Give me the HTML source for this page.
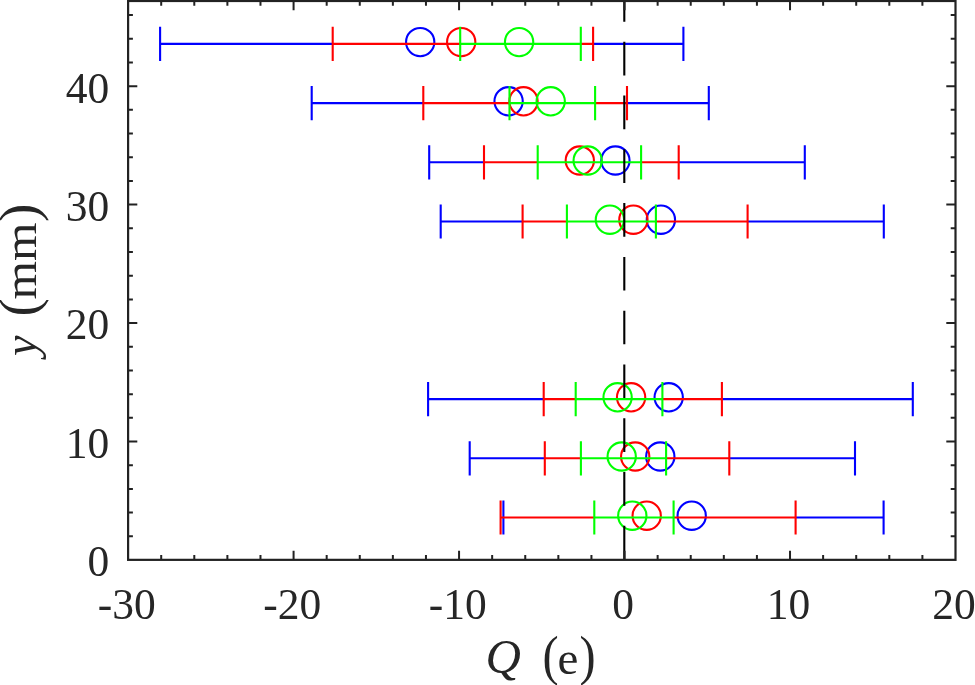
<!DOCTYPE html>
<html><head><meta charset="utf-8"><title>Q vs y</title>
<style>html,body{margin:0;padding:0;background:#fff;overflow:hidden}svg{display:block}text{font-family:"Liberation Serif","DejaVu Serif",serif;fill:#262626}</style>
</head><body>
<svg width="975" height="685" viewBox="0 0 975 685">
<rect x="0" y="0" width="975" height="685" fill="#ffffff"/>
<g stroke="#0000ff" stroke-width="2.10" fill="none">
<path d="M160.1 43.9H332.7M593.1 43.9H683.4M160.1 26.8V61.0M683.4 26.8V61.0M311.7 103.1H423.3M627.0 103.1H708.8M311.7 86.0V120.2M708.8 86.0V120.2M429.2 162.3H484.0M678.7 162.3H804.8M429.2 145.2V179.4M804.8 145.2V179.4M440.7 221.5H522.6M747.6 221.5H883.8M440.7 204.4V238.6M883.8 204.4V238.6M428.1 399.1H543.7M721.9 399.1H912.8M428.1 382.0V416.2M912.8 382.0V416.2M469.7 458.3H544.8M729.3 458.3H855.0M469.7 441.2V475.4M855.0 441.2V475.4M795.6 517.5H883.6M503.4 500.4V534.6M883.6 500.4V534.6"/>
<circle cx="420.2" cy="42.1" r="14.15"/>
<circle cx="508.6" cy="101.3" r="14.15"/>
<circle cx="615.4" cy="160.5" r="14.15"/>
<circle cx="660.9" cy="219.7" r="14.15"/>
<circle cx="668.7" cy="397.3" r="14.15"/>
<circle cx="660.3" cy="456.5" r="14.15"/>
<circle cx="691.7" cy="515.7" r="14.15"/>
</g>
<g stroke="#ff0000" stroke-width="2.10" fill="none">
<path d="M332.7 43.9H460.2M580.8 43.9H593.1M332.7 26.8V61.0M593.1 26.8V61.0M423.3 103.1H509.5M595.1 103.1H627.0M423.3 86.0V120.2M627.0 86.0V120.2M484.0 162.3H537.7M641.1 162.3H678.7M484.0 145.2V179.4M678.7 145.2V179.4M522.6 221.5H566.9M655.9 221.5H747.6M522.6 204.4V238.6M747.6 204.4V238.6M543.7 399.1H575.7M662.4 399.1H721.9M543.7 382.0V416.2M721.9 382.0V416.2M544.8 458.3H580.9M666.1 458.3H729.3M544.8 441.2V475.4M729.3 441.2V475.4M500.6 517.5H594.3M673.6 517.5H795.6M500.6 500.4V534.6M795.6 500.4V534.6"/>
<circle cx="461.2" cy="42.1" r="14.15"/>
<circle cx="523.5" cy="101.3" r="14.15"/>
<circle cx="579.8" cy="160.5" r="14.15"/>
<circle cx="633.4" cy="219.7" r="14.15"/>
<circle cx="631.1" cy="397.3" r="14.15"/>
<circle cx="635.2" cy="456.5" r="14.15"/>
<circle cx="646.7" cy="515.7" r="14.15"/>
</g>
<g stroke="#00ff00" stroke-width="2.10" fill="none">
<path d="M460.2 43.9H580.8M460.2 26.8V61.0M580.8 26.8V61.0M509.5 103.1H595.1M509.5 86.0V120.2M595.1 86.0V120.2M537.7 162.3H641.1M537.7 145.2V179.4M641.1 145.2V179.4M566.9 221.5H655.9M566.9 204.4V238.6M655.9 204.4V238.6M575.7 399.1H662.4M575.7 382.0V416.2M662.4 382.0V416.2M580.9 458.3H666.1M580.9 441.2V475.4M666.1 441.2V475.4M594.3 517.5H673.6M594.3 500.4V534.6M673.6 500.4V534.6"/>
<circle cx="519.1" cy="42.1" r="14.15"/>
<circle cx="550.7" cy="101.3" r="14.15"/>
<circle cx="587.7" cy="160.5" r="14.15"/>
<circle cx="609.9" cy="219.7" r="14.15"/>
<circle cx="617.6" cy="397.3" r="14.15"/>
<circle cx="621.7" cy="456.5" r="14.15"/>
<circle cx="632.3" cy="515.7" r="14.15"/>
</g>
<line x1="624.3" x2="624.3" y1="-11.97" y2="559.85" stroke="#000" stroke-width="2.1" stroke-dasharray="33.7 20.07"/>
<g stroke="#222222" stroke-width="2.2" fill="none">
<rect x="128.10" y="1.00" width="827.40" height="558.85"/>
<path d="M161.20 559.85v-4.8M161.20 1.00v4.8M194.29 559.85v-4.8M194.29 1.00v4.8M227.39 559.85v-4.8M227.39 1.00v4.8M260.48 559.85v-4.8M260.48 1.00v4.8M293.58 559.85v-9.2M293.58 1.00v9.2M326.68 559.85v-4.8M326.68 1.00v4.8M359.77 559.85v-4.8M359.77 1.00v4.8M392.87 559.85v-4.8M392.87 1.00v4.8M425.96 559.85v-4.8M425.96 1.00v4.8M459.06 559.85v-9.2M459.06 1.00v9.2M492.16 559.85v-4.8M492.16 1.00v4.8M525.25 559.85v-4.8M525.25 1.00v4.8M558.35 559.85v-4.8M558.35 1.00v4.8M591.44 559.85v-4.8M591.44 1.00v4.8M624.54 559.85v-9.2M624.54 1.00v9.2M657.64 559.85v-4.8M657.64 1.00v4.8M690.73 559.85v-4.8M690.73 1.00v4.8M723.83 559.85v-4.8M723.83 1.00v4.8M756.92 559.85v-4.8M756.92 1.00v4.8M790.02 559.85v-9.2M790.02 1.00v9.2M823.12 559.85v-4.8M823.12 1.00v4.8M856.21 559.85v-4.8M856.21 1.00v4.8M889.31 559.85v-4.8M889.31 1.00v4.8M922.40 559.85v-4.8M922.40 1.00v4.8M128.1 536.31h4.8M955.5 536.31h-4.8M128.1 512.62h4.8M955.5 512.62h-4.8M128.1 488.92h4.8M955.5 488.92h-4.8M128.1 465.23h4.8M955.5 465.23h-4.8M128.1 441.54h9.2M955.5 441.54h-9.2M128.1 417.85h4.8M955.5 417.85h-4.8M128.1 394.16h4.8M955.5 394.16h-4.8M128.1 370.46h4.8M955.5 370.46h-4.8M128.1 346.77h4.8M955.5 346.77h-4.8M128.1 323.08h9.2M955.5 323.08h-9.2M128.1 299.39h4.8M955.5 299.39h-4.8M128.1 275.70h4.8M955.5 275.70h-4.8M128.1 252.00h4.8M955.5 252.00h-4.8M128.1 228.31h4.8M955.5 228.31h-4.8M128.1 204.62h9.2M955.5 204.62h-9.2M128.1 180.93h4.8M955.5 180.93h-4.8M128.1 157.24h4.8M955.5 157.24h-4.8M128.1 133.54h4.8M955.5 133.54h-4.8M128.1 109.85h4.8M955.5 109.85h-4.8M128.1 86.16h9.2M955.5 86.16h-9.2M128.1 62.47h4.8M955.5 62.47h-4.8M128.1 38.78h4.8M955.5 38.78h-4.8M128.1 15.08h4.8M955.5 15.08h-4.8" stroke-width="2"/>
</g>
<g font-size="44.3">
<text transform="translate(126.7 619.4) scale(0.982 1)" text-anchor="middle">-30</text>
<text transform="translate(292.2 619.4) scale(0.982 1)" text-anchor="middle">-20</text>
<text transform="translate(457.7 619.4) scale(0.982 1)" text-anchor="middle">-10</text>
<text transform="translate(623.1 619.4) scale(0.982 1)" text-anchor="middle">0</text>
<text transform="translate(788.6 619.4) scale(0.982 1)" text-anchor="middle">10</text>
<text transform="translate(954.1 619.4) scale(0.982 1)" text-anchor="middle">20</text>
<text transform="translate(109.3 576.3) scale(0.982 1)" text-anchor="end">0</text>
<text transform="translate(109.3 457.8) scale(0.982 1)" text-anchor="end">10</text>
<text transform="translate(109.3 339.4) scale(0.982 1)" text-anchor="end">20</text>
<text transform="translate(109.3 220.9) scale(0.982 1)" text-anchor="end">30</text>
<text transform="translate(109.3 102.5) scale(0.982 1)" text-anchor="end">40</text>
</g>
<text x="485.6" y="672.6" font-size="49" font-style="italic">Q</text>
<text transform="translate(542.4 673.5) scale(0.88 1)" font-size="55">(</text>
<text x="557.6" y="673.8" font-size="47">e</text>
<text transform="translate(579.6 673.5) scale(0.88 1)" font-size="55">)</text>
<g transform="translate(36.3 0) rotate(-90)">
<text x="-356" y="0" font-size="46" font-style="italic">y</text>
<text x="-316.5" y="0.5" font-size="55">(</text>
<text x="-299.5" y="0" font-size="47" textLength="77" lengthAdjust="spacingAndGlyphs">mm</text>
<text x="-222" y="0.5" font-size="55">)</text>
</g>
</svg>
</body></html>
